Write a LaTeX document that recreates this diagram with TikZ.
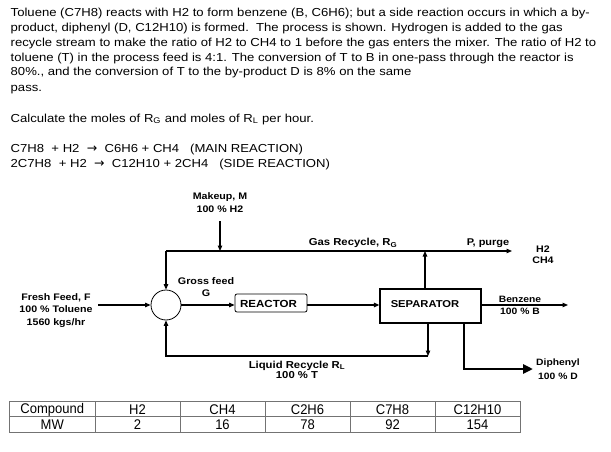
\documentclass[tikz,border=0pt]{standalone}
\usepackage{fontspec}
\setmainfont{Liberation Sans}
\newfontfamily\bodyf[FakeStretch=1.13]{Liberation Sans}
\newfontfamily\lblf[FakeStretch=1.12]{Liberation Sans Bold}
\newfontfamily\cellf[FakeStretch=0.93]{Liberation Sans}
\newfontfamily\symf{DejaVu Sans}
\usetikzlibrary{arrows.meta}
\begin{document}
\begin{tikzpicture}[x=1pt,y=-1pt,
  body/.style={anchor=base west,inner sep=0pt,font=\bodyf\fontsize{11.6}{14}\selectfont},
  lbl/.style={align=center,inner sep=0pt,font=\lblf\fontsize{9.6}{12.4}\selectfont},
  arr/.style={-{Triangle[length=5.5pt,width=4.5pt]},line width=1.1pt},
  cell/.style={inner sep=0pt,font=\cellf\fontsize{14}{15}\selectfont},
  grid/.style={draw=black!55,line width=0.9pt}]
\fill[white] (0,0) rectangle (611,452);
\useasboundingbox (0,0) rectangle (611,452);

% paragraph
\node[body] (t1) at (10.5,17) {Toluene (C7H8) reacts with H2 to form benzene (B, C6H6); but a side reaction occurs in which a by-};
\node[body] (t2) at (10.5,31.8) {product, diphenyl (D, C12H10) is formed.\ \ The process is shown. Hydrogen is added to the gas};
\node[body] (t3) at (10.5,46.4) {recycle stream to make the ratio of H2 to CH4 to 1 before the gas enters the mixer. The ratio of H2 to};
\node[body] (t4) at (10.5,61.2) {toluene (T) in the process feed is 4:1. The conversion of T to B in one-pass through the reactor is};
\node[body] (t5) at (10.5,76) {80\%., and the conversion of T to the by-product D is 8\% on the same};
\node[body] (t6) at (10.5,91.6) {pass.};
\node[body] (q1) at (10.5,122) {Calculate the moles of R\textsubscript{G} and moles of R\textsubscript{L} per hour.};
\node[body] (r1) at (10.5,152.6) {C7H8\ \ + H2\ \ {\symf\fontsize{12.5}{12}\selectfont →}\ \ C6H6 + CH4\ \ \ (MAIN REACTION)};
\node[body] (r2) at (10.5,167.6) {2C7H8\ \ + H2\ \ {\symf\fontsize{12.5}{12}\selectfont →}\ \ C12H10 + 2CH4\ \ \ (SIDE REACTION)};

% units
\node[circle,draw,line width=0.8pt,minimum size=30pt,inner sep=0pt] (mix) at (166,305) {};
\node[draw,rounded corners=2pt,line width=0.8pt,minimum width=72pt,minimum height=18pt,inner sep=0pt] (reac) at (271,303) {};
\node[inner sep=0pt,font=\lblf\fontsize{10.3}{13}\selectfont] (reactxt) at (268.5,303.5) {REACTOR};
\node[draw,line width=1.2pt,minimum width=101pt,minimum height=34pt,inner sep=0pt] (sep) at (430.5,306) {};
\node[inner sep=0pt,font=\lblf\fontsize{10}{13}\selectfont] (septxt) at (425,304.5) {SEPARATOR};

% labels
\node[lbl,font=\lblf\fontsize{9.5}{12.6}\selectfont] (mk) at (220,202.5) {Makeup, M\\100 \% H2};
\node[lbl,font=\lblf\fontsize{9.5}{12.4}\selectfont] (ff) at (56,310.5) {Fresh Feed, F\\100 \% Toluene\\1560 kgs/hr};
\node[lbl] (gf) at (206,287) {Gross feed\\G};
\node[lbl,font=\lblf\fontsize{10.1}{12}\selectfont] (gr) at (353,243) {Gas Recycle, R\textsubscript{G}};
\node[lbl,font=\lblf\fontsize{9.8}{12}\selectfont] (pp) at (488,243) {P, purge};
\node[lbl,font=\lblf\fontsize{9.5}{11}\selectfont] (hc) at (543,254.5) {H2\\CH4};
\node[lbl,font=\lblf\fontsize{9.2}{12.5}\selectfont] (bz) at (520,305.5) {Benzene\\100 \% B};
\node[lbl,font=\lblf\fontsize{10.1}{10.5}\selectfont] (lr) at (297,370) {Liquid Recycle R\textsubscript{L}\\100 \% T};
\node[lbl,font=\lblf\fontsize{9.2}{14}\selectfont] (dp) at (558,369) {Diphenyl\\100 \% D};

% coordinates
\coordinate (mkt) at (220,221);
\coordinate (mkj) at (220,251);
\coordinate (gj) at (425,251);
\coordinate (gl) at (166,251);
\coordinate (pe) at (512,251);
\coordinate (ffs) at (98,305);
\coordinate (be) at (568,305);
\coordinate (lj) at (428,356);
\coordinate (ll) at (166,356);
\coordinate (dc) at (464,369);
\coordinate (de) at (533,369);

% connectors
\draw[arr] (mkt) -- (mkj);
\draw[arr] (sep.north -| gj) -- (gj);
\draw[arr] (gl) -- (pe);
\draw[arr] (gl) -- (mix.north);
\draw[arr] (ffs) -- (mix.west);
\draw[arr] (mix.east) -- (mix.east -| reac.west);
\draw[arr] (reac.east |- mix.east) -- (sep.west |- mix.east);
\draw[arr] (sep.east |- be) -- (be);
\draw[arr] (sep.south -| lj) -- (lj);
\draw[arr] (lj) -- (ll) -- (mix.south);
\draw[line width=2.6pt,-{Triangle[length=10pt,width=9pt]}] (sep.south -| dc) -- (dc) -- (de);

% table
\draw[grid] (9.5,401.5) rectangle (520,432.5);
\draw[grid] (9.5,416.5) -- (520,416.5);
\foreach \x in {95,180,265,350,435} \draw[grid] (\x,401.5) -- (\x,432.5);
\node[cell] (c1) at (52.25,409.5) {Compound};
\node[cell] (c2) at (137.5,409.5) {H2};
\node[cell] (c3) at (222.5,409.5) {CH4};
\node[cell] (c4) at (307.5,409.5) {C2H6};
\node[cell] (c5) at (392.5,409.5) {C7H8};
\node[cell] (c6) at (477.5,409.5) {C12H10};
\node[cell] (m1) at (52.25,424.5) {MW};
\node[cell] (m2) at (137.5,424.5) {2};
\node[cell] (m3) at (222.5,424.5) {16};
\node[cell] (m4) at (307.5,424.5) {78};
\node[cell] (m5) at (392.5,424.5) {92};
\node[cell] (m6) at (477.5,424.5) {154};
\end{tikzpicture}
\end{document}
